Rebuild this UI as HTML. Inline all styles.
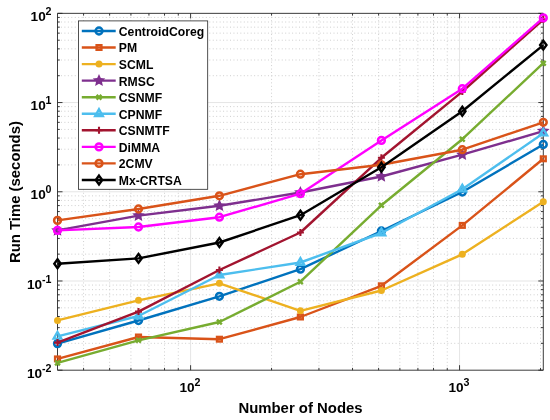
<!DOCTYPE html>
<html><head><meta charset="utf-8"><title>Run Time</title><style>html,body{margin:0;padding:0;background:#fff}svg{display:block}</style></head><body>
<svg width="550" height="420" viewBox="0 0 550 420" font-family="'Liberation Sans', Arial, Helvetica, sans-serif" font-weight="bold" fill="#000">
<rect width="550" height="420" fill="#fff"/>
<path d="M83.57 13.35V370.2M109.63 13.35V370.2M130.93 13.35V370.2M148.93 13.35V370.2M164.53 13.35V370.2M178.29 13.35V370.2M271.56 13.35V370.2M318.93 13.35V370.2M352.53 13.35V370.2M378.6 13.35V370.2M399.89 13.35V370.2M417.9 13.35V370.2M433.5 13.35V370.2M447.26 13.35V370.2M540.53 13.35V370.2M57.5 343.34H543.3M57.5 327.63H543.3M57.5 316.49H543.3M57.5 307.84H543.3M57.5 300.78H543.3M57.5 294.81H543.3M57.5 289.63H543.3M57.5 285.07H543.3M57.5 254.13H543.3M57.5 238.42H543.3M57.5 227.28H543.3M57.5 218.63H543.3M57.5 211.57H543.3M57.5 205.59H543.3M57.5 200.42H543.3M57.5 195.86H543.3M57.5 164.92H543.3M57.5 149.21H543.3M57.5 138.06H543.3M57.5 129.42H543.3M57.5 122.35H543.3M57.5 116.38H543.3M57.5 111.21H543.3M57.5 106.64H543.3M57.5 75.71H543.3M57.5 60.0H543.3M57.5 48.85H543.3M57.5 40.21H543.3M57.5 33.14H543.3M57.5 27.17H543.3M57.5 22.0H543.3M57.5 17.43H543.3" stroke="#cfcfcf" stroke-width="1" stroke-dasharray="1 2.45" fill="none"/>
<path d="M190.6 13.35V370.2M459.56 13.35V370.2M57.5 280.99H543.3M57.5 191.78H543.3M57.5 102.56H543.3" stroke="#e5e5e5" stroke-width="1" fill="none"/>
<path d="M57.5 13.35H543.3V370.2H57.5ZM190.6 370.2v-5M190.6 13.35v5M459.56 370.2v-5M459.56 13.35v5M83.57 370.2v-2.3M83.57 13.35v2.3M109.63 370.2v-2.3M109.63 13.35v2.3M130.93 370.2v-2.3M130.93 13.35v2.3M148.93 370.2v-2.3M148.93 13.35v2.3M164.53 370.2v-2.3M164.53 13.35v2.3M178.29 370.2v-2.3M178.29 13.35v2.3M271.56 370.2v-2.3M271.56 13.35v2.3M318.93 370.2v-2.3M318.93 13.35v2.3M352.53 370.2v-2.3M352.53 13.35v2.3M378.6 370.2v-2.3M378.6 13.35v2.3M399.89 370.2v-2.3M399.89 13.35v2.3M417.9 370.2v-2.3M417.9 13.35v2.3M433.5 370.2v-2.3M433.5 13.35v2.3M447.26 370.2v-2.3M447.26 13.35v2.3M540.53 370.2v-2.3M540.53 13.35v2.3M57.5 370.2h5M543.3 370.2h-5M57.5 280.99h5M543.3 280.99h-5M57.5 191.78h5M543.3 191.78h-5M57.5 102.56h5M543.3 102.56h-5M57.5 13.35h5M543.3 13.35h-5M57.5 343.34h2.3M543.3 343.34h-2.3M57.5 327.63h2.3M543.3 327.63h-2.3M57.5 316.49h2.3M543.3 316.49h-2.3M57.5 307.84h2.3M543.3 307.84h-2.3M57.5 300.78h2.3M543.3 300.78h-2.3M57.5 294.81h2.3M543.3 294.81h-2.3M57.5 289.63h2.3M543.3 289.63h-2.3M57.5 285.07h2.3M543.3 285.07h-2.3M57.5 254.13h2.3M543.3 254.13h-2.3M57.5 238.42h2.3M543.3 238.42h-2.3M57.5 227.28h2.3M543.3 227.28h-2.3M57.5 218.63h2.3M543.3 218.63h-2.3M57.5 211.57h2.3M543.3 211.57h-2.3M57.5 205.59h2.3M543.3 205.59h-2.3M57.5 200.42h2.3M543.3 200.42h-2.3M57.5 195.86h2.3M543.3 195.86h-2.3M57.5 164.92h2.3M543.3 164.92h-2.3M57.5 149.21h2.3M543.3 149.21h-2.3M57.5 138.06h2.3M543.3 138.06h-2.3M57.5 129.42h2.3M543.3 129.42h-2.3M57.5 122.35h2.3M543.3 122.35h-2.3M57.5 116.38h2.3M543.3 116.38h-2.3M57.5 111.21h2.3M543.3 111.21h-2.3M57.5 106.64h2.3M543.3 106.64h-2.3M57.5 75.71h2.3M543.3 75.71h-2.3M57.5 60.0h2.3M543.3 60.0h-2.3M57.5 48.85h2.3M543.3 48.85h-2.3M57.5 40.21h2.3M543.3 40.21h-2.3M57.5 33.14h2.3M543.3 33.14h-2.3M57.5 27.17h2.3M543.3 27.17h-2.3M57.5 22.0h2.3M543.3 22.0h-2.3M57.5 17.43h2.3M543.3 17.43h-2.3" stroke="#262626" stroke-width="0.9" fill="none"/>
<polyline points="57.5,343.6 138.5,320.5 219.4,296.3 300.4,269.2 381.4,231.0 462.3,192.0 543.3,144.5" fill="none" stroke="#0072BD" stroke-width="2.4" stroke-linejoin="round"/>
<circle cx="57.5" cy="343.6" r="3.4" fill="none" stroke="#0072BD" stroke-width="2.5"/>
<circle cx="138.5" cy="320.5" r="3.4" fill="none" stroke="#0072BD" stroke-width="2.5"/>
<circle cx="219.4" cy="296.3" r="3.4" fill="none" stroke="#0072BD" stroke-width="2.5"/>
<circle cx="300.4" cy="269.2" r="3.4" fill="none" stroke="#0072BD" stroke-width="2.5"/>
<circle cx="381.4" cy="231.0" r="3.4" fill="none" stroke="#0072BD" stroke-width="2.5"/>
<circle cx="462.3" cy="192.0" r="3.4" fill="none" stroke="#0072BD" stroke-width="2.5"/>
<circle cx="543.3" cy="144.5" r="3.4" fill="none" stroke="#0072BD" stroke-width="2.5"/>
<polyline points="57.5,358.9 138.5,337.0 219.4,339.2 300.4,317.0 381.4,285.8 462.3,225.4 543.3,158.8" fill="none" stroke="#D95319" stroke-width="2.4" stroke-linejoin="round"/>
<rect x="55.1" y="356.6" width="4.8" height="4.6" fill="none" stroke="#D95319" stroke-width="2.4"/>
<rect x="136.1" y="334.7" width="4.8" height="4.6" fill="none" stroke="#D95319" stroke-width="2.4"/>
<rect x="217.0" y="336.9" width="4.8" height="4.6" fill="none" stroke="#D95319" stroke-width="2.4"/>
<rect x="298.0" y="314.7" width="4.8" height="4.6" fill="none" stroke="#D95319" stroke-width="2.4"/>
<rect x="379.0" y="283.5" width="4.8" height="4.6" fill="none" stroke="#D95319" stroke-width="2.4"/>
<rect x="459.9" y="223.1" width="4.8" height="4.6" fill="none" stroke="#D95319" stroke-width="2.4"/>
<rect x="540.9" y="156.5" width="4.8" height="4.6" fill="none" stroke="#D95319" stroke-width="2.4"/>
<polyline points="57.5,320.4 138.5,300.3 219.4,283.3 300.4,310.8 381.4,290.5 462.3,254.3 543.3,201.8" fill="none" stroke="#EDB120" stroke-width="2.4" stroke-linejoin="round"/>
<circle cx="57.5" cy="320.4" r="3.5" fill="#EDB120"/>
<circle cx="138.5" cy="300.3" r="3.5" fill="#EDB120"/>
<circle cx="219.4" cy="283.3" r="3.5" fill="#EDB120"/>
<circle cx="300.4" cy="310.8" r="3.5" fill="#EDB120"/>
<circle cx="381.4" cy="290.5" r="3.5" fill="#EDB120"/>
<circle cx="462.3" cy="254.3" r="3.5" fill="#EDB120"/>
<circle cx="543.3" cy="201.8" r="3.5" fill="#EDB120"/>
<polyline points="57.5,230.4 138.5,215.6 219.4,205.8 300.4,192.5 381.4,176.5 462.3,154.7 543.3,131.1" fill="none" stroke="#7E2F8E" stroke-width="2.4" stroke-linejoin="round"/>
<polygon points="57.5,223.8 59.3,227.9 63.8,228.4 60.4,231.4 61.4,235.7 57.5,233.5 53.6,235.7 54.6,231.4 51.2,228.4 55.7,227.9" fill="#7E2F8E"/>
<polygon points="138.5,209.0 140.3,213.1 144.7,213.6 141.4,216.6 142.3,220.9 138.5,218.7 134.6,220.9 135.5,216.6 132.2,213.6 136.6,213.1" fill="#7E2F8E"/>
<polygon points="219.4,199.2 221.3,203.3 225.7,203.8 222.4,206.8 223.3,211.1 219.4,208.9 215.6,211.1 216.5,206.8 213.2,203.8 217.6,203.3" fill="#7E2F8E"/>
<polygon points="300.4,185.9 302.2,190.0 306.7,190.5 303.3,193.5 304.3,197.8 300.4,195.6 296.5,197.8 297.5,193.5 294.1,190.5 298.6,190.0" fill="#7E2F8E"/>
<polygon points="381.4,169.9 383.2,174.0 387.6,174.5 384.3,177.5 385.2,181.8 381.4,179.6 377.5,181.8 378.4,177.5 375.1,174.5 379.5,174.0" fill="#7E2F8E"/>
<polygon points="462.3,148.1 464.2,152.2 468.6,152.7 465.3,155.7 466.2,160.0 462.3,157.8 458.5,160.0 459.4,155.7 456.1,152.7 460.5,152.2" fill="#7E2F8E"/>
<polygon points="543.3,124.5 545.1,128.6 549.6,129.1 546.2,132.1 547.2,136.4 543.3,134.2 539.4,136.4 540.4,132.1 537.0,129.1 541.5,128.6" fill="#7E2F8E"/>
<polyline points="57.5,362.9 138.5,340.3 219.4,322.0 300.4,281.7 381.4,205.3 462.3,139.2 543.3,63.2" fill="none" stroke="#77AC30" stroke-width="2.4" stroke-linejoin="round"/>
<path d="M55.1 360.5L59.9 365.3M55.1 365.3L59.9 360.5" stroke="#77AC30" stroke-width="2.4" fill="none"/>
<path d="M136.1 337.9L140.9 342.7M136.1 342.7L140.9 337.9" stroke="#77AC30" stroke-width="2.4" fill="none"/>
<path d="M217.0 319.6L221.8 324.4M217.0 324.4L221.8 319.6" stroke="#77AC30" stroke-width="2.4" fill="none"/>
<path d="M298.0 279.3L302.8 284.1M298.0 284.1L302.8 279.3" stroke="#77AC30" stroke-width="2.4" fill="none"/>
<path d="M379.0 202.9L383.8 207.7M379.0 207.7L383.8 202.9" stroke="#77AC30" stroke-width="2.4" fill="none"/>
<path d="M459.9 136.8L464.7 141.6M459.9 141.6L464.7 136.8" stroke="#77AC30" stroke-width="2.4" fill="none"/>
<path d="M540.9 60.8L545.7 65.6M540.9 65.6L545.7 60.8" stroke="#77AC30" stroke-width="2.4" fill="none"/>
<polyline points="57.5,336.4 138.5,316.0 219.4,275.0 300.4,262.5 381.4,233.0 462.3,189.2 543.3,133.2" fill="none" stroke="#4DBEEE" stroke-width="2.4" stroke-linejoin="round"/>
<polygon points="57.5,332.0 61.3,338.6 53.7,338.6" fill="none" stroke="#4DBEEE" stroke-width="2.4" stroke-linejoin="miter" stroke-miterlimit="10"/>
<polygon points="138.5,311.6 142.3,318.2 134.7,318.2" fill="none" stroke="#4DBEEE" stroke-width="2.4" stroke-linejoin="miter" stroke-miterlimit="10"/>
<polygon points="219.4,270.6 223.2,277.2 215.6,277.2" fill="none" stroke="#4DBEEE" stroke-width="2.4" stroke-linejoin="miter" stroke-miterlimit="10"/>
<polygon points="300.4,258.1 304.2,264.7 296.6,264.7" fill="none" stroke="#4DBEEE" stroke-width="2.4" stroke-linejoin="miter" stroke-miterlimit="10"/>
<polygon points="381.4,228.6 385.2,235.2 377.6,235.2" fill="none" stroke="#4DBEEE" stroke-width="2.4" stroke-linejoin="miter" stroke-miterlimit="10"/>
<polygon points="462.3,184.8 466.1,191.4 458.5,191.4" fill="none" stroke="#4DBEEE" stroke-width="2.4" stroke-linejoin="miter" stroke-miterlimit="10"/>
<polygon points="543.3,128.8 547.1,135.4 539.5,135.4" fill="none" stroke="#4DBEEE" stroke-width="2.4" stroke-linejoin="miter" stroke-miterlimit="10"/>
<polyline points="57.5,342.6 138.5,311.6 219.4,270.0 300.4,232.5 381.4,157.8 462.3,91.6 543.3,19.5" fill="none" stroke="#A2142F" stroke-width="2.4" stroke-linejoin="round"/>
<path d="M54.0 342.6L61.0 342.6M57.5 339.1L57.5 346.1" stroke="#A2142F" stroke-width="2.1" fill="none"/>
<path d="M135.0 311.6L142.0 311.6M138.5 308.1L138.5 315.1" stroke="#A2142F" stroke-width="2.1" fill="none"/>
<path d="M215.9 270.0L222.9 270.0M219.4 266.5L219.4 273.5" stroke="#A2142F" stroke-width="2.1" fill="none"/>
<path d="M296.9 232.5L303.9 232.5M300.4 229.0L300.4 236.0" stroke="#A2142F" stroke-width="2.1" fill="none"/>
<path d="M377.9 157.8L384.9 157.8M381.4 154.3L381.4 161.3" stroke="#A2142F" stroke-width="2.1" fill="none"/>
<path d="M458.8 91.6L465.8 91.6M462.3 88.1L462.3 95.1" stroke="#A2142F" stroke-width="2.1" fill="none"/>
<path d="M539.8 19.5L546.8 19.5M543.3 16.0L543.3 23.0" stroke="#A2142F" stroke-width="2.1" fill="none"/>
<polyline points="57.5,230.4 138.5,227.0 219.4,217.2 300.4,193.7 381.4,140.4 462.3,88.7 543.3,17.9" fill="none" stroke="#FF00FF" stroke-width="2.4" stroke-linejoin="round"/>
<circle cx="57.5" cy="230.4" r="3.4" fill="none" stroke="#FF00FF" stroke-width="2.5"/>
<circle cx="138.5" cy="227.0" r="3.4" fill="none" stroke="#FF00FF" stroke-width="2.5"/>
<circle cx="219.4" cy="217.2" r="3.4" fill="none" stroke="#FF00FF" stroke-width="2.5"/>
<circle cx="300.4" cy="193.7" r="3.4" fill="none" stroke="#FF00FF" stroke-width="2.5"/>
<circle cx="381.4" cy="140.4" r="3.4" fill="none" stroke="#FF00FF" stroke-width="2.5"/>
<circle cx="462.3" cy="88.7" r="3.4" fill="none" stroke="#FF00FF" stroke-width="2.5"/>
<circle cx="543.3" cy="17.9" r="3.4" fill="none" stroke="#FF00FF" stroke-width="2.5"/>
<polyline points="57.5,220.4 138.5,209.0 219.4,195.8 300.4,174.2 381.4,164.8 462.3,149.7 543.3,122.3" fill="none" stroke="#D95319" stroke-width="2.4" stroke-linejoin="round"/>
<circle cx="57.5" cy="220.4" r="3.4" fill="none" stroke="#D95319" stroke-width="2.5"/>
<circle cx="138.5" cy="209.0" r="3.4" fill="none" stroke="#D95319" stroke-width="2.5"/>
<circle cx="219.4" cy="195.8" r="3.4" fill="none" stroke="#D95319" stroke-width="2.5"/>
<circle cx="300.4" cy="174.2" r="3.4" fill="none" stroke="#D95319" stroke-width="2.5"/>
<circle cx="381.4" cy="164.8" r="3.4" fill="none" stroke="#D95319" stroke-width="2.5"/>
<circle cx="462.3" cy="149.7" r="3.4" fill="none" stroke="#D95319" stroke-width="2.5"/>
<circle cx="543.3" cy="122.3" r="3.4" fill="none" stroke="#D95319" stroke-width="2.5"/>
<polyline points="57.5,263.7 138.5,258.4 219.4,242.5 300.4,215.2 381.4,167.3 462.3,111.2 543.3,45.1" fill="none" stroke="#000000" stroke-width="2.4" stroke-linejoin="round"/>
<polygon points="57.5,259.3 60.7,263.7 57.5,268.1 54.3,263.7" fill="none" stroke="#000000" stroke-width="2.4" stroke-linejoin="miter" stroke-miterlimit="10"/>
<polygon points="138.5,254.0 141.7,258.4 138.5,262.8 135.3,258.4" fill="none" stroke="#000000" stroke-width="2.4" stroke-linejoin="miter" stroke-miterlimit="10"/>
<polygon points="219.4,238.1 222.6,242.5 219.4,246.9 216.2,242.5" fill="none" stroke="#000000" stroke-width="2.4" stroke-linejoin="miter" stroke-miterlimit="10"/>
<polygon points="300.4,210.8 303.6,215.2 300.4,219.6 297.2,215.2" fill="none" stroke="#000000" stroke-width="2.4" stroke-linejoin="miter" stroke-miterlimit="10"/>
<polygon points="381.4,162.9 384.6,167.3 381.4,171.7 378.2,167.3" fill="none" stroke="#000000" stroke-width="2.4" stroke-linejoin="miter" stroke-miterlimit="10"/>
<polygon points="462.3,106.8 465.5,111.2 462.3,115.6 459.1,111.2" fill="none" stroke="#000000" stroke-width="2.4" stroke-linejoin="miter" stroke-miterlimit="10"/>
<polygon points="543.3,40.7 546.5,45.1 543.3,49.5 540.1,45.1" fill="none" stroke="#000000" stroke-width="2.4" stroke-linejoin="miter" stroke-miterlimit="10"/>
<rect x="78.4" y="20.9" width="129.3" height="168.4" fill="#fff" stroke="#262626" stroke-width="0.8"/>
<path d="M81.8 31.00H115.7" stroke="#0072BD" stroke-width="2.4" fill="none"/>
<circle cx="99.0" cy="31.0" r="3.4" fill="none" stroke="#0072BD" stroke-width="2.5"/>
<text x="118.8" y="35.90" font-size="12.2">CentroidCoreg</text>
<path d="M81.8 47.55H115.7" stroke="#D95319" stroke-width="2.4" fill="none"/>
<rect x="96.6" y="45.2" width="4.8" height="4.6" fill="none" stroke="#D95319" stroke-width="2.4"/>
<text x="118.8" y="52.45" font-size="12.2">PM</text>
<path d="M81.8 64.10H115.7" stroke="#EDB120" stroke-width="2.4" fill="none"/>
<circle cx="99.0" cy="64.1" r="3.5" fill="#EDB120"/>
<text x="118.8" y="69.00" font-size="12.2">SCML</text>
<path d="M81.8 80.65H115.7" stroke="#7E2F8E" stroke-width="2.4" fill="none"/>
<polygon points="99.0,74.1 100.8,78.1 105.3,78.6 101.9,81.6 102.9,86.0 99.0,83.8 95.1,86.0 96.1,81.6 92.7,78.6 97.2,78.1" fill="#7E2F8E"/>
<text x="118.8" y="85.55" font-size="12.2">RMSC</text>
<path d="M81.8 97.20H115.7" stroke="#77AC30" stroke-width="2.4" fill="none"/>
<path d="M96.6 94.8L101.4 99.6M96.6 99.6L101.4 94.8" stroke="#77AC30" stroke-width="2.4" fill="none"/>
<text x="118.8" y="102.10" font-size="12.2">CSNMF</text>
<path d="M81.8 113.75H115.7" stroke="#4DBEEE" stroke-width="2.4" fill="none"/>
<polygon points="99.0,109.3 102.8,116.0 95.2,116.0" fill="none" stroke="#4DBEEE" stroke-width="2.4" stroke-linejoin="miter" stroke-miterlimit="10"/>
<text x="118.8" y="118.65" font-size="12.2">CPNMF</text>
<path d="M81.8 130.30H115.7" stroke="#A2142F" stroke-width="2.4" fill="none"/>
<path d="M95.5 130.3L102.5 130.3M99.0 126.8L99.0 133.8" stroke="#A2142F" stroke-width="2.1" fill="none"/>
<text x="118.8" y="135.20" font-size="12.2">CSNMTF</text>
<path d="M81.8 146.85H115.7" stroke="#FF00FF" stroke-width="2.4" fill="none"/>
<circle cx="99.0" cy="146.9" r="3.4" fill="none" stroke="#FF00FF" stroke-width="2.5"/>
<text x="118.8" y="151.75" font-size="12.2">DiMMA</text>
<path d="M81.8 163.40H115.7" stroke="#D95319" stroke-width="2.4" fill="none"/>
<circle cx="99.0" cy="163.4" r="3.4" fill="none" stroke="#D95319" stroke-width="2.5"/>
<text x="118.8" y="168.30" font-size="12.2">2CMV</text>
<path d="M81.8 179.95H115.7" stroke="#000000" stroke-width="2.4" fill="none"/>
<polygon points="99.0,175.6 102.2,180.0 99.0,184.4 95.8,180.0" fill="none" stroke="#000000" stroke-width="2.4" stroke-linejoin="miter" stroke-miterlimit="10"/>
<text x="118.8" y="184.85" font-size="12.2">Mx-CRTSA</text>
<text x="27.03" y="377.90" font-size="13.6">10</text><text x="42.03" y="371.90" font-size="10.67">-2</text>
<text x="27.03" y="288.69" font-size="13.6">10</text><text x="42.03" y="282.69" font-size="10.67">-1</text>
<text x="30.58" y="199.47" font-size="13.6">10</text><text x="45.58" y="193.47" font-size="10.67">0</text>
<text x="30.58" y="110.26" font-size="13.6">10</text><text x="45.58" y="104.26" font-size="10.67">1</text>
<text x="30.58" y="21.05" font-size="13.6">10</text><text x="45.58" y="15.05" font-size="10.67">2</text>
<text x="179.54" y="392.30" font-size="13.6">10</text><text x="194.54" y="386.30" font-size="10.67">2</text>
<text x="448.50" y="392.30" font-size="13.6">10</text><text x="463.50" y="386.30" font-size="10.67">3</text>
<text x="300.5" y="412.7" font-size="14.9" text-anchor="middle">Number of Nodes</text>
<text transform="translate(20.1 192.1) rotate(-90)" font-size="14.9" text-anchor="middle">Run Time (seconds)</text>
</svg>
</body></html>
